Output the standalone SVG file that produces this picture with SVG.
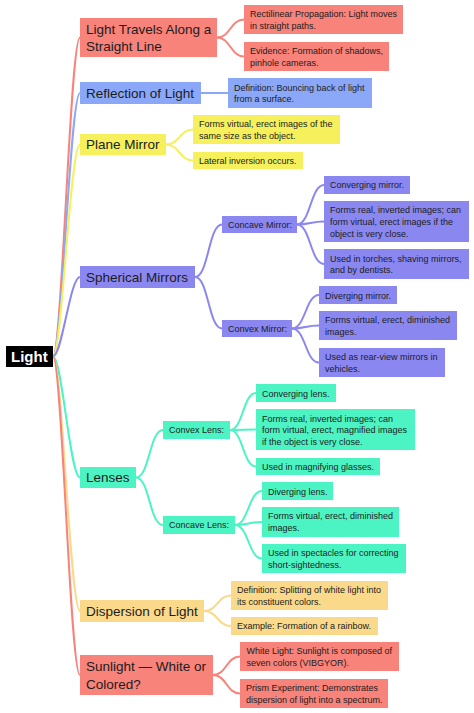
<svg xmlns="http://www.w3.org/2000/svg" width="474" height="713" viewBox="0 0 474 713">
<style>
text{font-family:"Liberation Sans",Arial,sans-serif;fill:#1c1c1c}
.m{font-size:13.5px}
.s{font-size:9px}
.root{font-size:15px;font-weight:bold;fill:#fff}
.c{fill:none;stroke-width:2}
.red{fill:#f8837b}.blue{fill:#8ba7f7}.yel{fill:#f5f05c}.pur{fill:#8b87f1}.teal{fill:#4cf4c3}.org{fill:#fad98b}
.rs{stroke:#f8837b}.bs{stroke:#8ba7f7}.ys{stroke:#f5f05c}.ps{stroke:#8b87f1}.ts{stroke:#4cf4c3}.os{stroke:#fad98b}
</style>
<rect width="474" height="713" fill="#fff"/>
<g id="connectors">
<path class="c rs" d="M53,356.5 C62,356.5 70,37.5 80,37.5"/>
<path class="c bs" d="M53,356.5 C62,356.5 70,93 80,93"/>
<path class="c ys" d="M53,356.5 C62,356.5 70,144.5 80,144.5"/>
<path class="c ps" d="M53,356.5 C62,356.5 70,277 80,277"/>
<path class="c ts" d="M53,356.5 C62,356.5 70,477.5 80,477.5"/>
<path class="c os" d="M53,356.5 C62,356.5 70,611 80,611"/>
<path class="c rs" d="M53,356.5 C62,356.5 70,675 80,675"/>
<path class="c rs" d="M217,37.5 C230.5,37.5 230.5,19.5 244,19.5"/>
<path class="c rs" d="M217,37.5 C230.5,37.5 230.5,56.5 244,56.5"/>
<path class="c bs" d="M201,93 L228,93"/>
<path class="c ys" d="M166,144.5 C179.5,144.5 179.5,129.5 193,129.5"/>
<path class="c ys" d="M166,144.5 C179.5,144.5 179.5,160.5 193,160.5"/>
<path class="c ps" d="M195,277 C208.5,277 208.5,224.5 222,224.5"/>
<path class="c ps" d="M195,277 C208.5,277 208.5,328.5 222,328.5"/>
<path class="c ps" d="M297,224.5 C310.5,224.5 310.5,185 324,185"/>
<path class="c ps" d="M297,224.5 C310.5,224.5 310.5,221.5 324,221.5"/>
<path class="c ps" d="M297,224.5 C310.5,224.5 310.5,264 324,264"/>
<path class="c ps" d="M292,328.5 C305.5,328.5 305.5,295 319,295"/>
<path class="c ps" d="M292,328.5 C305.5,328.5 305.5,325.5 319,325.5"/>
<path class="c ps" d="M292,328.5 C305.5,328.5 305.5,362.5 319,362.5"/>
<path class="c ts" d="M136,477.5 C149.5,477.5 149.5,430 163,430"/>
<path class="c ts" d="M136,477.5 C149.5,477.5 149.5,525 163,525"/>
<path class="c ts" d="M230,430 C243,430 243,393 256,393"/>
<path class="c ts" d="M230,430 C243,430 243,429.5 256,429.5"/>
<path class="c ts" d="M230,430 C243,430 243,466.5 256,466.5"/>
<path class="c ts" d="M235,525 C248.5,525 248.5,491 262,491"/>
<path class="c ts" d="M235,525 C248.5,525 248.5,522 262,522"/>
<path class="c ts" d="M235,525 C248.5,525 248.5,558.5 262,558.5"/>
<path class="c os" d="M204,611 C217.5,611 217.5,595.5 231,595.5"/>
<path class="c os" d="M204,611 C217.5,611 217.5,626 231,626"/>
<path class="c rs" d="M213,675 C226.5,675 226.5,656.5 240,656.5"/>
<path class="c rs" d="M213,675 C226.5,675 226.5,693.5 240,693.5"/>
</g>
<g id="root"><rect x="6" y="346" width="47" height="21" fill="#000"/><text class="root" x="11" y="361.5">Light</text></g>
<g id="n1"><rect class="red" x="80" y="18" width="137" height="39"/><text class="m" x="86" y="34">Light Travels Along a</text><text class="m" x="86" y="51">Straight Line</text></g>
<g id="n1a"><rect class="red" x="244" y="5" width="159" height="29"/><text class="s" x="250" y="17.2">Rectilinear Propagation: Light moves</text><text class="s" x="250" y="29">in straight paths.</text></g>
<g id="n1b"><rect class="red" x="244" y="42" width="145" height="29"/><text class="s" x="250" y="54">Evidence: Formation of shadows,</text><text class="s" x="250" y="65.7">pinhole cameras.</text></g>
<g id="n2"><rect class="blue" x="80" y="82" width="121" height="22"/><text class="m" x="86" y="97.5">Reflection of Light</text></g>
<g id="n2a"><rect class="blue" x="228" y="78" width="144" height="30"/><text class="s" x="234" y="90.5">Definition: Bouncing back of light</text><text class="s" x="234" y="102.2">from a surface.</text></g>
<g id="n3"><rect class="yel" x="80" y="134" width="86" height="21"/><text class="m" x="86" y="149.2">Plane Mirror</text></g>
<g id="n3a"><rect class="yel" x="193" y="115" width="147" height="29"/><text class="s" x="199" y="127.2">Forms virtual, erect images of the</text><text class="s" x="199" y="139">same size as the object.</text></g>
<g id="n3b"><rect class="yel" x="193" y="152" width="110" height="17"/><text class="s" x="199" y="163.5">Lateral inversion occurs.</text></g>
<g id="n4"><rect class="pur" x="80" y="266" width="115" height="22"/><text class="m" x="86" y="281.5">Spherical Mirrors</text></g>
<g id="n4a"><rect class="pur" x="222" y="216" width="75" height="17"/><text class="s" x="228" y="227.5">Concave Mirror:</text></g>
<g id="n4a1"><rect class="pur" x="324" y="176" width="86" height="18"/><text class="s" x="330" y="188.2">Converging mirror.</text></g>
<g id="n4a2"><rect class="pur" x="324" y="201" width="145" height="41"/><text class="s" x="330" y="213.2">Forms real, inverted images; can</text><text class="s" x="330" y="225">form virtual, erect images if the</text><text class="s" x="330" y="236.5">object is very close.</text></g>
<g id="n4a3"><rect class="pur" x="324" y="249" width="145" height="30"/><text class="s" x="330" y="261.5">Used in torches, shaving mirrors,</text><text class="s" x="330" y="273.2">and by dentists.</text></g>
<g id="n4b"><rect class="pur" x="222" y="320" width="70" height="17"/><text class="s" x="228" y="331.5">Convex Mirror:</text></g>
<g id="n4b1"><rect class="pur" x="319" y="286" width="78" height="18"/><text class="s" x="325" y="298.5">Diverging mirror.</text></g>
<g id="n4b2"><rect class="pur" x="319" y="311" width="138" height="29"/><text class="s" x="325" y="323.2">Forms virtual, erect, diminished</text><text class="s" x="325" y="335">images.</text></g>
<g id="n4b3"><rect class="pur" x="319" y="348" width="126" height="29"/><text class="s" x="325" y="360">Used as rear-view mirrors in</text><text class="s" x="325" y="371.5">vehicles.</text></g>
<g id="n5"><rect class="teal" x="80" y="467" width="56" height="21"/><text class="m" x="86" y="482.2">Lenses</text></g>
<g id="n5a"><rect class="teal" x="163" y="421" width="67" height="18"/><text class="s" x="169" y="433.2">Convex Lens:</text></g>
<g id="n5a1"><rect class="teal" x="256" y="384" width="80" height="18"/><text class="s" x="262" y="396.5">Converging lens.</text></g>
<g id="n5a2"><rect class="teal" x="256" y="409" width="159" height="41"/><text class="s" x="262" y="421.5">Forms real, inverted images; can</text><text class="s" x="262" y="433.2">form virtual, erect, magnified images</text><text class="s" x="262" y="445">if the object is very close.</text></g>
<g id="n5a3"><rect class="teal" x="256" y="458" width="124" height="17"/><text class="s" x="262" y="470">Used in magnifying glasses.</text></g>
<g id="n5b"><rect class="teal" x="163" y="516" width="72" height="18"/><text class="s" x="169" y="528">Concave Lens:</text></g>
<g id="n5b1"><rect class="teal" x="262" y="482" width="71" height="18"/><text class="s" x="268" y="494.5">Diverging lens.</text></g>
<g id="n5b2"><rect class="teal" x="262" y="507" width="137" height="30"/><text class="s" x="268" y="519.2">Forms virtual, erect, diminished</text><text class="s" x="268" y="531">images.</text></g>
<g id="n5b3"><rect class="teal" x="262" y="544" width="144" height="29"/><text class="s" x="268" y="556">Used in spectacles for correcting</text><text class="s" x="268" y="567.5">short-sightedness.</text></g>
<g id="n6"><rect class="org" x="80" y="600" width="124" height="22"/><text class="m" x="86" y="615.5">Dispersion of Light</text></g>
<g id="n6a"><rect class="org" x="231" y="581" width="157" height="29"/><text class="s" x="237" y="592.5">Definition: Splitting of white light into</text><text class="s" x="237" y="604.5">its constituent colors.</text></g>
<g id="n6b"><rect class="org" x="231" y="617" width="147" height="18"/><text class="s" x="237" y="629.2">Example: Formation of a rainbow.</text></g>
<g id="n7"><rect class="red" x="80" y="655" width="133" height="40"/><text class="m" x="86" y="671">Sunlight — White or</text><text class="m" x="86" y="688.5">Colored?</text></g>
<g id="n7a"><rect class="red" x="240" y="642" width="159" height="29"/><text class="s" x="246.5" y="654">White Light: Sunlight is composed of</text><text class="s" x="246.5" y="666">seven colors (VIBGYOR).</text></g>
<g id="n7b"><rect class="red" x="240" y="679" width="148" height="29"/><text class="s" x="246" y="691">Prism Experiment: Demonstrates</text><text class="s" x="246" y="702.5">dispersion of light into a spectrum.</text></g>
</svg>
